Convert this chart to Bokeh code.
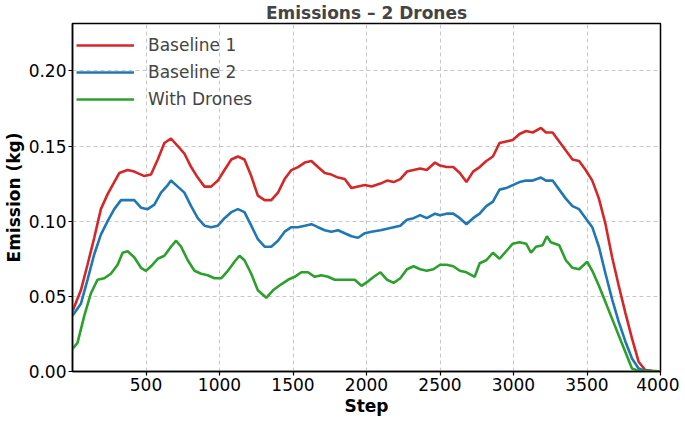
from bokeh.plotting import figure
from bokeh.models import FixedTicker, PrintfTickFormatter, Legend, LegendItem, Range1d
from bokeh.embed import file_html
from bokeh.resources import INLINE

# ---- data ----
steps_b1 = [0, 57, 102, 148, 193, 239, 284, 318, 375, 420, 489, 534, 580, 625, 670, 716, 761, 807,
            852, 898, 943, 989, 1034, 1080, 1125, 1170, 1216, 1261, 1307, 1352, 1398, 1443, 1489,
            1534, 1580, 1625, 1670, 1716, 1761, 1807, 1852, 1898, 1943, 1989, 2034, 2095, 2140,
            2185, 2230, 2275, 2320, 2365, 2410, 2466, 2500, 2545, 2590, 2635, 2680, 2725, 2770,
            2815, 2860, 2905, 2950, 2995, 3041, 3086, 3131, 3187, 3221, 3266, 3311, 3356, 3401,
            3446, 3491, 3536, 3581, 3626, 3671, 3716, 3761, 3806, 3851, 3896, 3941, 4000]
emis_b1 = [0.040, 0.054, 0.071, 0.089, 0.108, 0.118, 0.126, 0.132, 0.134, 0.133, 0.130, 0.131,
           0.141, 0.152, 0.155, 0.150, 0.145, 0.136, 0.129, 0.123, 0.123, 0.127, 0.134, 0.141,
           0.143, 0.141, 0.130, 0.117, 0.114, 0.114, 0.119, 0.128, 0.134, 0.136, 0.139, 0.140,
           0.136, 0.132, 0.131, 0.129, 0.128, 0.122, 0.123, 0.124, 0.123, 0.125, 0.127, 0.126,
           0.128, 0.133, 0.134, 0.135, 0.134, 0.139, 0.137, 0.136, 0.136, 0.132, 0.126, 0.133,
           0.136, 0.140, 0.143, 0.152, 0.153, 0.154, 0.158, 0.160, 0.159, 0.162, 0.159, 0.159,
           0.153, 0.147, 0.141, 0.140, 0.134, 0.127, 0.115, 0.098, 0.076, 0.057, 0.039, 0.022,
           0.0065, 0.001, 0.0004, 0.0]

steps_b2 = [0, 57, 102, 148, 193, 239, 284, 330, 375, 420, 466, 511, 557, 602, 648, 670, 716, 761,
            807, 852, 898, 943, 989, 1034, 1080, 1125, 1170, 1216, 1261, 1307, 1352, 1398, 1443,
            1489, 1534, 1580, 1625, 1670, 1716, 1761, 1807, 1852, 1898, 1943, 1989, 2034, 2095,
            2140, 2185, 2230, 2275, 2320, 2365, 2410, 2466, 2500, 2545, 2590, 2635, 2680, 2725,
            2770, 2815, 2860, 2905, 2950, 2995, 3041, 3086, 3131, 3187, 3221, 3266, 3311, 3356,
            3401, 3446, 3491, 3536, 3581, 3626, 3671, 3716, 3761, 3806, 3851, 3896, 4000]
emis_b2 = [0.037, 0.045, 0.061, 0.078, 0.091, 0.100, 0.108, 0.114, 0.114, 0.114, 0.109, 0.108,
           0.111, 0.119, 0.124, 0.127, 0.123, 0.119, 0.110, 0.102, 0.097, 0.096, 0.097, 0.102,
           0.106, 0.108, 0.106, 0.097, 0.088, 0.083, 0.083, 0.087, 0.093, 0.096, 0.096, 0.097,
           0.098, 0.096, 0.094, 0.093, 0.094, 0.092, 0.090, 0.089, 0.092, 0.093, 0.094, 0.095,
           0.096, 0.097, 0.101, 0.102, 0.104, 0.102, 0.105, 0.104, 0.105, 0.105, 0.102, 0.098,
           0.102, 0.105, 0.110, 0.113, 0.121, 0.122, 0.124, 0.126, 0.127, 0.127, 0.129, 0.127,
           0.127, 0.121, 0.115, 0.110, 0.108, 0.102, 0.096, 0.083, 0.065, 0.048, 0.033, 0.020,
           0.0087, 0.002, 0.0004, 0.0]

steps_dr = [0, 34, 80, 125, 170, 216, 261, 307, 341, 375, 420, 466, 500, 534, 580, 625, 670, 705,
            739, 784, 830, 875, 920, 966, 1011, 1057, 1102, 1136, 1170, 1216, 1261, 1318, 1364,
            1420, 1466, 1511, 1557, 1602, 1648, 1693, 1739, 1784, 1830, 1875, 1920, 1966, 2011,
            2050, 2095, 2140, 2185, 2230, 2275, 2320, 2365, 2410, 2455, 2500, 2545, 2590, 2635,
            2680, 2736, 2770, 2815, 2860, 2905, 2950, 2995, 3041, 3086, 3119, 3153, 3198, 3227,
            3254, 3311, 3356, 3401, 3446, 3502, 3536, 3581, 3626, 3671, 3716, 3761, 3806, 3851,
            4000]
emis_dr = [0.015, 0.019, 0.037, 0.052, 0.061, 0.062, 0.065, 0.071, 0.079, 0.080, 0.076, 0.069,
           0.067, 0.070, 0.075, 0.077, 0.083, 0.087, 0.083, 0.074, 0.067, 0.065, 0.064, 0.062,
           0.062, 0.067, 0.073, 0.077, 0.074, 0.065, 0.054, 0.049, 0.054, 0.058, 0.061, 0.063,
           0.066, 0.066, 0.063, 0.064, 0.063, 0.061, 0.061, 0.061, 0.061, 0.057, 0.060, 0.063,
           0.066, 0.061, 0.059, 0.062, 0.068, 0.070, 0.068, 0.067, 0.068, 0.071, 0.071, 0.070,
           0.067, 0.066, 0.063, 0.072, 0.074, 0.079, 0.075, 0.080, 0.085, 0.086, 0.085, 0.079,
           0.083, 0.084, 0.090, 0.086, 0.084, 0.074, 0.069, 0.068, 0.073, 0.067, 0.057, 0.046,
           0.035, 0.024, 0.013, 0.002, 0.0004, 0.0]

series_names = ["Baseline 1", "Baseline 2", "With Drones"]
series_colors = ["#d62728", "#1f77b4", "#2ca02c"]
x_ticks = [500, 1000, 1500, 2000, 2500, 3000, 3500, 4000]
y_ticks = [0.0, 0.05, 0.10, 0.15, 0.20]

FONT = "DejaVu Sans"

p = figure(frame_width=588, frame_height=348, output_backend="svg", toolbar_location=None,
           x_range=Range1d(0, 4000), y_range=Range1d(0, 0.2315),
           title="Emissions \u2013 2 Drones")
p.min_border_left = 0
p.min_border_right = 19
p.min_border_top = 0
p.min_border_bottom = 0

p.title.align = "center"
p.title.text_font = FONT
p.title.text_font_size = "17px"
p.title.text_font_style = "bold"
p.title.standoff = 1
p.title.offset = 0

renderers = []
for xs, ys, c in zip([steps_b1, steps_b2, steps_dr], [emis_b1, emis_b2, emis_dr], series_colors):
    r = p.line(xs, ys, line_color=c, line_width=2.6)
    renderers.append(r)

legend = Legend(items=[LegendItem(label=n, renderers=[r]) for n, r in zip(series_names, renderers)],
                location=(4, 262))
legend.background_fill_alpha = 0
legend.border_line_alpha = 0
legend.label_text_font = FONT
legend.label_text_font_size = "17px"
legend.glyph_width = 58
legend.glyph_height = 20
legend.label_height = 20
legend.label_standoff = 14
legend.spacing = 7
legend.padding = 0
legend.margin = 0
p.add_layout(legend)

for ax in (p.xaxis[0], p.yaxis[0]):
    ax.axis_line_color = "black"
    ax.axis_line_width = 1.5
    ax.major_tick_line_color = "black"
    ax.major_tick_line_width = 1.2
    ax.major_tick_out = 4
    ax.major_tick_in = 0
    ax.minor_tick_line_color = None
    ax.major_label_text_font = FONT
    ax.major_label_text_font_size = "17px"
    ax.major_label_text_color = "black"
    ax.major_label_standoff = 2
    ax.axis_label_text_font = FONT
    ax.axis_label_text_font_size = "17px"
    ax.axis_label_text_font_style = "bold"
    ax.axis_label_text_color = "black"
    ax.axis_label_standoff = 2

p.xaxis.axis_label = "Step"
p.yaxis.axis_label = "Emission (kg)"
p.xaxis.ticker = FixedTicker(ticks=x_ticks)
p.yaxis.ticker = FixedTicker(ticks=y_ticks)
p.yaxis.formatter = PrintfTickFormatter(format="%.2f")

p.outline_line_color = "black"
p.outline_line_width = 1.5
p.outline_line_alpha = 1

for g in (p.xgrid[0], p.ygrid[0]):
    g.grid_line_color = "#b0b0b0"
    g.grid_line_alpha = 0.7
    g.grid_line_dash = "4 3"
    g.grid_line_width = 1
p.xgrid.ticker = FixedTicker(ticks=x_ticks)
p.ygrid.ticker = FixedTicker(ticks=y_ticks)

p.background_fill_color = "white"
p.border_fill_color = "white"

open("out.html", "w").write(file_html(p, INLINE))
